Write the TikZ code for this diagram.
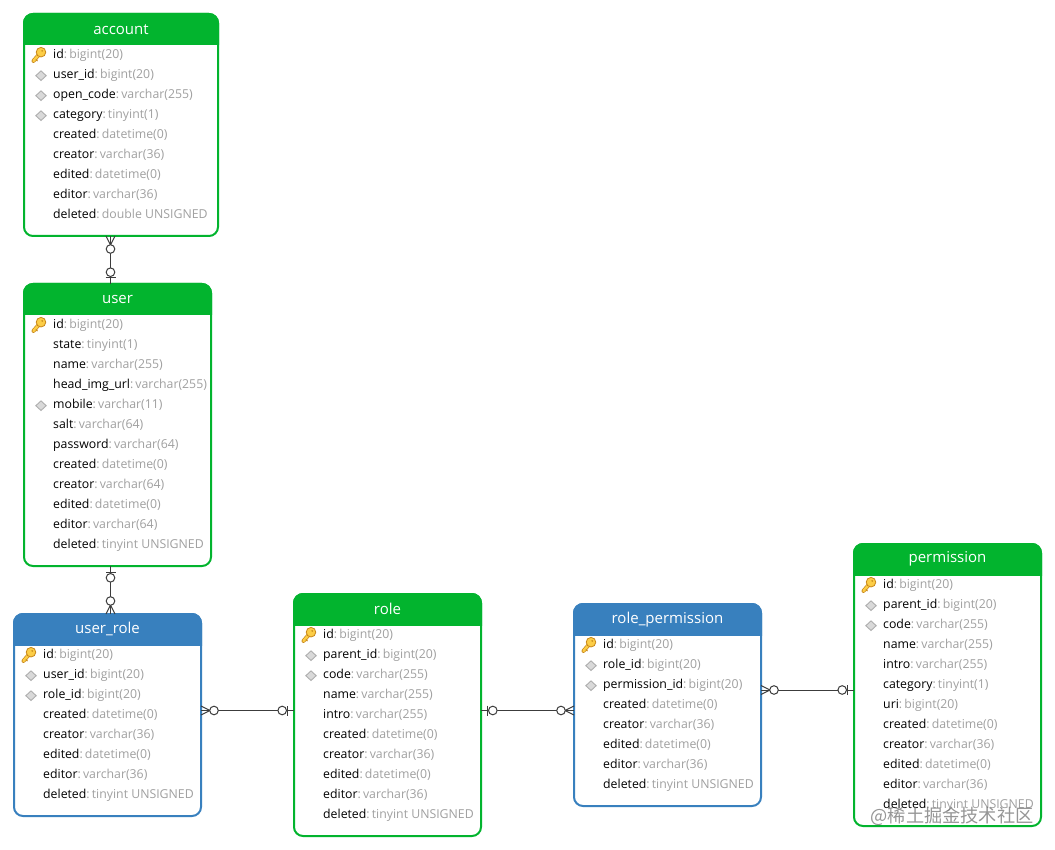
\documentclass[tikz,border=0pt]{standalone}
\usepackage{fontspec}
\setmainfont{Open Sans}
\newfontfamily\cjkwm{Noto Sans CJK SC}
\definecolor{ergreen}{RGB}{2,180,46}
\definecolor{erblue}{RGB}{56,128,190}
\definecolor{typegrey}{RGB}{160,160,160}
\definecolor{keygold}{RGB}{252,205,70}
\definecolor{keyedge}{RGB}{200,135,25}
\definecolor{linkgrey}{RGB}{60,60,60}
\tikzset{
  tablebox/.style={draw=#1,line width=2pt,fill=white,rounded corners=9pt,inner sep=0pt,outer sep=0pt,anchor=north west},
  titletext/.style={text=white,font=\fontsize{15}{17}\selectfont,inner sep=0pt,anchor=center},
  rowtext/.style={font=\fontsize{12.3}{14}\selectfont,inner sep=0pt,anchor=base west},
  linkline/.style={draw=linkgrey,line width=1pt},
  rowkey/.pic={
    \draw[keyedge,line width=4pt,line cap=round] (0,-3.5) -- (-7.5,5.2);
    \draw[keygold,line width=2.6pt,line cap=round] (0,-3.5) -- (-7.5,5.2);
    \draw[keyedge,line width=1pt] (-5.2,3.9) -- (-3.4,5.4);
    \draw[keyedge,fill=keygold,line width=.8pt] (0,-3.5) circle (4.8);
    \fill[keyedge] (1.2,-4.8) circle (.9);
  },
  rowdia/.pic={\draw[draw=typegrey!85!white,fill=black!15,line width=.9pt] (-5.2,0) -- (0,-4.8) -- (5.2,0) -- (0,4.8) -- cycle;},
  rowplain/.pic={},
  crowzero/.pic={
    \draw[linkline] (0,-4.5) -- (9,0) -- (0,4.5);
    \draw[linkline,fill=white] (13,0) circle (4.3);
  },
  barzero/.pic={
    \draw[linkline] (6.3,-5) -- (6.3,5);
    \draw[linkline,fill=white] (11.8,0) circle (4.3);
  }
}
\newcommand{\erdtable}[8]{%
  \node[tablebox=#6,minimum width=#4 pt,minimum height=#5 pt] (#1) at (#2,#3) {};
  \begin{scope}
    \clip ({#2-2},{#3-2}) rectangle ({#2+#4+2},{#3+31});
    \fill[#6,draw=#6,line width=2pt,rounded corners=9pt] (#1.north west) rectangle (#1.south east);
  \end{scope}
  \node[titletext] (#1-title) at ([yshift=-15.2pt]#1.north) {#7};
  \foreach \k/\n/\t [count=\i] in {#8} {
    \node[rowtext] (#1-row\i) at ({#2+29},{#3+24.6+20*\i}) {\n\textcolor{typegrey}{:\hspace{2.2pt}\t}};
    \pic at ({#2+17},{#3+21.7+20*\i}) {\k};
  }
}
\begin{document}
\begin{tikzpicture}[x=1pt,y=-1pt]
\useasboundingbox (0,0) rectangle (1055,850);
\fill[white] (0,0) rectangle (1055,850);

\erdtable{account}{24}{14}{194}{222}{ergreen}{account}{rowkey/id/bigint(20),rowdia/user\_id/bigint(20),rowdia/open\_code/varchar(255),rowdia/category/tinyint(1),rowplain/created/datetime(0),rowplain/creator/varchar(36),rowplain/edited/datetime(0),rowplain/editor/varchar(36),rowplain/deleted/double UNSIGNED}

\erdtable{user}{24}{284}{187}{282}{ergreen}{user}{rowkey/id/bigint(20),rowplain/state/tinyint(1),rowplain/name/varchar(255),rowplain/head\_img\_url/varchar(255),rowdia/mobile/varchar(11),rowplain/salt/varchar(64),rowplain/password/varchar(64),rowplain/created/datetime(0),rowplain/creator/varchar(64),rowplain/edited/datetime(0),rowplain/editor/varchar(64),rowplain/deleted/tinyint UNSIGNED}

\erdtable{userrole}{14}{614}{187}{202}{erblue}{user\_role}{rowkey/id/bigint(20),rowdia/user\_id/bigint(20),rowdia/role\_id/bigint(20),rowplain/created/datetime(0),rowplain/creator/varchar(36),rowplain/edited/datetime(0),rowplain/editor/varchar(36),rowplain/deleted/tinyint UNSIGNED}

\erdtable{role}{294}{594}{187}{242}{ergreen}{role}{rowkey/id/bigint(20),rowdia/parent\_id/bigint(20),rowdia/code/varchar(255),rowplain/name/varchar(255),rowplain/intro/varchar(255),rowplain/created/datetime(0),rowplain/creator/varchar(36),rowplain/edited/datetime(0),rowplain/editor/varchar(36),rowplain/deleted/tinyint UNSIGNED}

\erdtable{roleperm}{574}{604}{187}{202}{erblue}{role\_permission}{rowkey/id/bigint(20),rowdia/role\_id/bigint(20),rowdia/permission\_id/bigint(20),rowplain/created/datetime(0),rowplain/creator/varchar(36),rowplain/edited/datetime(0),rowplain/editor/varchar(36),rowplain/deleted/tinyint UNSIGNED}

\erdtable{permission}{854}{544}{187}{282}{ergreen}{permission}{rowkey/id/bigint(20),rowdia/parent\_id/bigint(20),rowdia/code/varchar(255),rowplain/name/varchar(255),rowplain/intro/varchar(255),rowplain/category/tinyint(1),rowplain/uri/bigint(20),rowplain/created/datetime(0),rowplain/creator/varchar(36),rowplain/edited/datetime(0),rowplain/editor/varchar(36),rowplain/deleted/tinyint UNSIGNED}

% connectors
\draw[linkline] ([xshift=-10.5pt]account.south) -- ([xshift=-7pt]user.north);
\pic[rotate=-90] at ([xshift=-10.5pt]account.south) {crowzero};
\pic[rotate=90] at ([xshift=-7pt]user.north) {barzero};

\draw[linkline] ([xshift=-7pt]user.south) -- ([xshift=3pt]userrole.north);
\pic[rotate=-90] at ([xshift=-7pt]user.south) {barzero};
\pic[rotate=90] at ([xshift=3pt]userrole.north) {crowzero};

\draw[linkline] ([yshift=4.5pt]userrole.east) -- ([yshift=4.5pt]role.west);
\pic at ([yshift=4.5pt]userrole.east) {crowzero};
\pic[rotate=180] at ([yshift=4.5pt]role.west) {barzero};

\draw[linkline] ([yshift=4.5pt]role.east) -- ([yshift=-5.5pt]roleperm.west);
\pic at ([yshift=4.5pt]role.east) {barzero};
\pic[rotate=180] at ([yshift=-5.5pt]roleperm.west) {crowzero};

\draw[linkline] ([yshift=15pt]roleperm.east) -- ([yshift=-5pt]permission.west);
\pic at ([yshift=15pt]roleperm.east) {crowzero};
\pic[rotate=180] at ([yshift=-5pt]permission.west) {barzero};

\node[inner sep=0pt,anchor=center,text=black!55,text opacity=.75,font=\cjkwm\fontsize{18.2}{20}\selectfont] (watermark) at (952,816) {@稀土掘金技术社区};
\end{tikzpicture}
\end{document}
